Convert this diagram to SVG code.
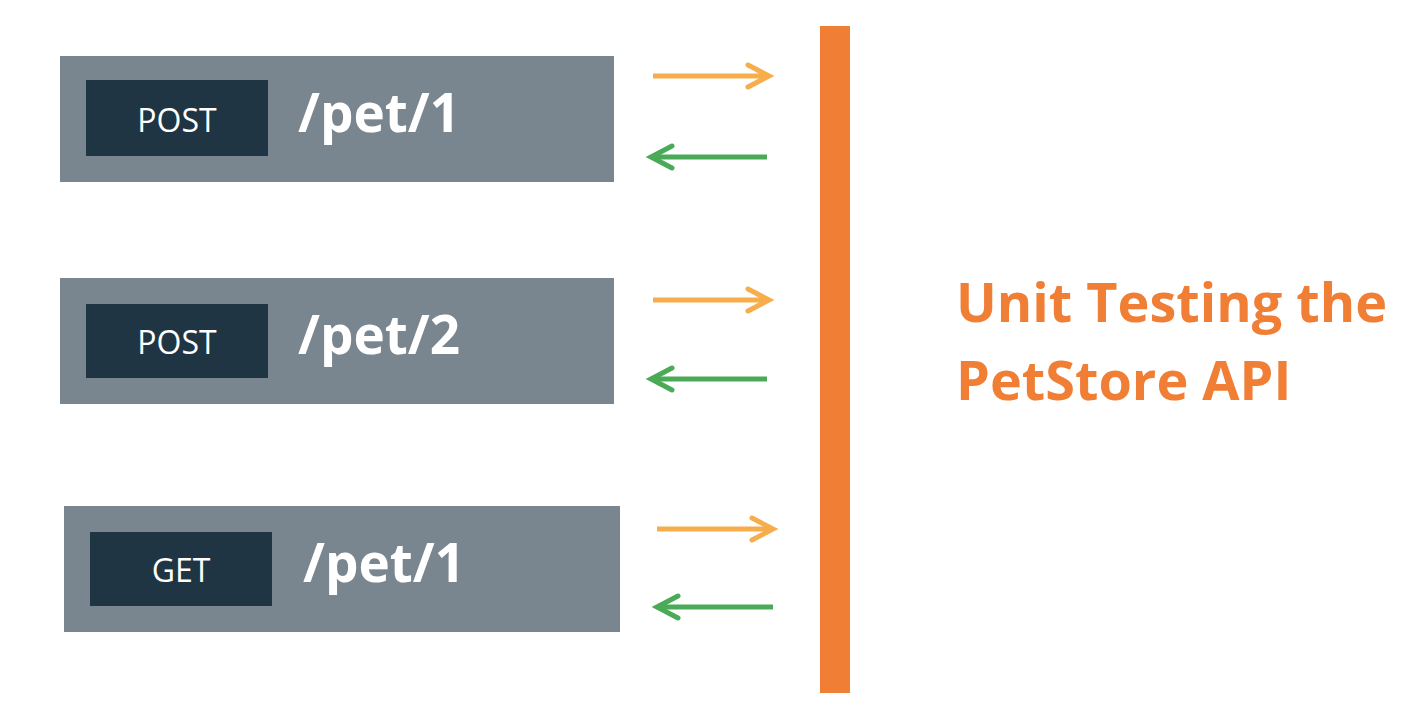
<svg xmlns="http://www.w3.org/2000/svg" width="1420" height="722" viewBox="0 0 1420 722">
<style>
.box{fill:#7A868F}
.tag{fill:#1F3544}
.method{font-family:"Open Sans","Liberation Sans",sans-serif;font-size:32px;fill:#fff;text-anchor:middle}
.path{font-family:"Open Sans","Liberation Sans",sans-serif;font-size:53px;font-weight:bold;fill:#fff}
.req{stroke:#F5AE4B;stroke-width:5;fill:none;stroke-linecap:butt}
.res{stroke:#4BAA57;stroke-width:5;fill:none}
.head-req{stroke:#F5AE4B;stroke-width:5;fill:none;stroke-linecap:round;stroke-linejoin:miter}
.head-res{stroke:#4BAA57;stroke-width:5;fill:none;stroke-linecap:round;stroke-linejoin:miter}
.title{font-family:"Open Sans","Liberation Sans",sans-serif;font-size:54px;font-weight:bold;fill:#F07F35}
</style>
<rect width="1420" height="722" fill="#fff"/>
<g id="node-post-pet-1">
<rect class="box" x="60" y="56" width="554" height="126"/>
<rect class="tag" x="86" y="80" width="182" height="76"/>
<text class="method" x="177" y="132">POST</text>
<text class="path" x="298" y="132">/pet/1</text>
</g>
<g id="node-post-pet-2">
<rect class="box" x="60" y="278" width="554" height="126"/>
<rect class="tag" x="86" y="304" width="182" height="74"/>
<text class="method" x="177" y="354">POST</text>
<text class="path" x="298" y="354">/pet/2</text>
</g>
<g id="node-get-pet-1">
<rect class="box" x="64" y="506" width="556" height="126"/>
<rect class="tag" x="90" y="532" width="182" height="74"/>
<text class="method" x="181" y="582">GET</text>
<text class="path" x="303" y="582">/pet/1</text>
</g>
<g id="node-api">
<rect x="820" y="26" width="30" height="667" fill="#F07F35"/>
</g>
<g id="node-title">
<text class="title" x="956" y="322">Unit Testing the</text>
<text class="title" x="956" y="400">PetStore API</text>
</g>
<g id="connectors">
<line class="req" x1="653" y1="76" x2="767" y2="76"/>
<polyline class="head-req" points="748,65 769,76 748,87"/>
<line class="res" x1="767" y1="157" x2="653" y2="157"/>
<polyline class="head-res" points="672,146 651,157 672,168"/>
<line class="req" x1="653" y1="300" x2="767" y2="300"/>
<polyline class="head-req" points="748,289 769,300 748,311"/>
<line class="res" x1="767" y1="379" x2="653" y2="379"/>
<polyline class="head-res" points="672,368 651,379 672,390"/>
<line class="req" x1="657" y1="529" x2="771" y2="529"/>
<polyline class="head-req" points="752,518 773,529 752,540"/>
<line class="res" x1="773" y1="607" x2="659" y2="607"/>
<polyline class="head-res" points="678,596 657,607 678,618"/>
</g>
</svg>
